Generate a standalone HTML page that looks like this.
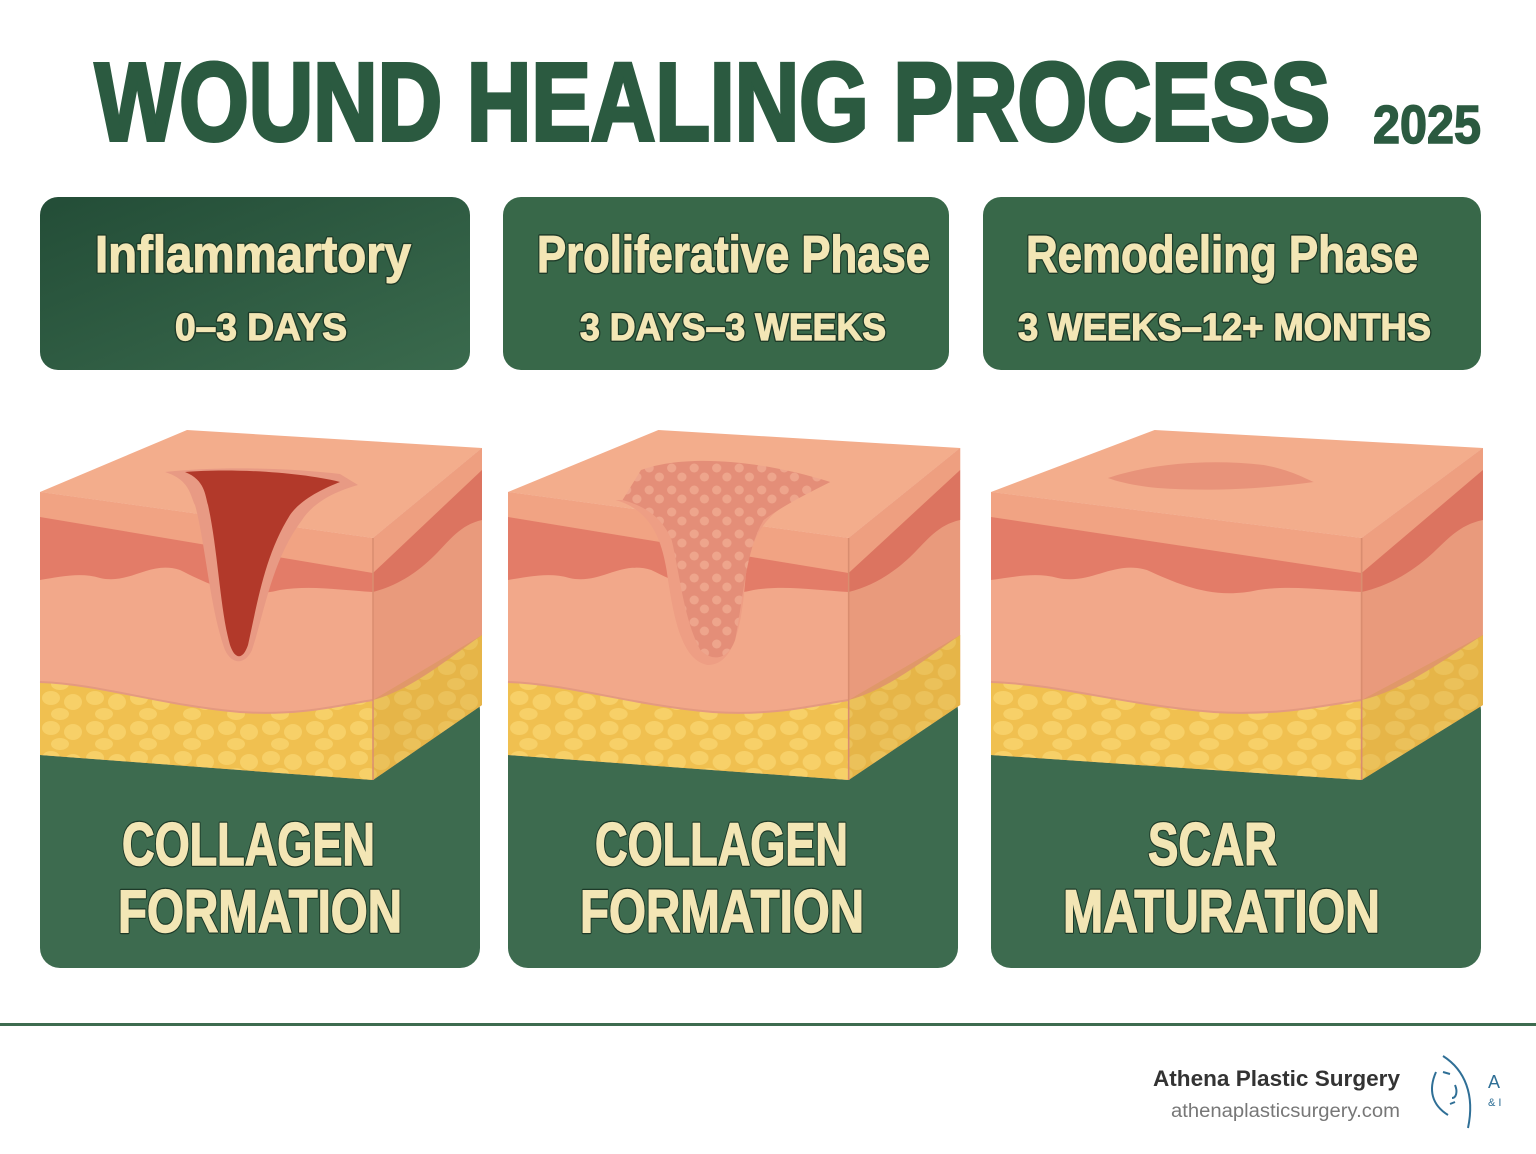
<!DOCTYPE html>
<html><head><meta charset="utf-8"><style>
html,body{margin:0;padding:0;background:#fff;}
svg{display:block}
text{font-family:"Liberation Sans",sans-serif;font-weight:bold;}
.cr{paint-order:stroke fill;}
</style></head><body>
<svg width="1536" height="1154" viewBox="0 0 1536 1154" xmlns="http://www.w3.org/2000/svg">
<defs>
<linearGradient id="hg" x1="0" y1="0" x2="1" y2="1"><stop offset="0" stop-color="#234d37"/><stop offset="1" stop-color="#3a6a4d"/></linearGradient>
<pattern id="fat" width="44" height="30" patternUnits="userSpaceOnUse">
<rect width="44" height="30" fill="#f0c050"/>
<ellipse cx="11" cy="8" rx="9" ry="7" fill="#f7d068"/>
<ellipse cx="33" cy="12" rx="9" ry="8" fill="#f7d068"/>
<ellipse cx="20" cy="24" rx="9" ry="6" fill="#f7d068"/>
</pattern>
<pattern id="gran" width="22" height="22" patternUnits="userSpaceOnUse">
<rect width="22" height="22" fill="#e48e78"/>
<circle cx="6" cy="6" r="4.5" fill="#eea58c"/>
<circle cx="16" cy="15" r="4.5" fill="#eea58c"/>
</pattern>
<g id="cube">
<polygon points="0,492 147,430 442,448 333,538" fill="#f3ad8c"/>
<polygon points="0,492 333,538 333,780 0,755" fill="#f2a88a"/>
<polygon points="0,492 333,538 333,573 0,517" fill="#f1a383"/>
<path d="M0,517 L333,573 L333,592 C300,590 270,585 240,590 C200,600 170,585 140,570 C110,560 90,585 60,578 C40,572 20,577 0,580 Z" fill="#e37c68"/>
<path d="M0,682 C60,684 120,705 200,712 C260,716 300,705 333,700 L333,780 L0,755 Z" fill="url(#fat)"/>
<path d="M0,682 C60,684 120,705 200,712 C260,716 300,705 333,700" fill="none" stroke="#e49a80" stroke-width="2"/>
<polygon points="333,538 442,448 442,705 333,780" fill="#e99a7c"/>
<polygon points="333,538 442,448 442,470 333,573" fill="#ee9f80"/>
<path d="M333,573 L442,470 L442,520 C420,525 410,540 395,555 C380,570 360,585 333,592 Z" fill="#dc7460"/>
<path d="M333,700 C370,690 400,665 442,635 L442,705 L333,780 Z" fill="url(#fat)"/>
<polygon points="333,700 442,635 442,705 333,780" fill="#c9932f" opacity="0.25"/>
<line x1="333" y1="538" x2="333" y2="780" stroke="#d98d70" stroke-width="1.5"/>
</g>
</defs>

<text class="cr" x="95" y="140" font-size="110" fill="#2b5a40" stroke="#2b5a40" stroke-width="4" textLength="1235" lengthAdjust="spacingAndGlyphs">WOUND HEALING PROCESS</text>
<text class="cr" x="1373" y="143" font-size="54" fill="#2b5a40" stroke="#2b5a40" stroke-width="1.5" textLength="108" lengthAdjust="spacingAndGlyphs">2025</text>

<rect x="40" y="197" width="430" height="173" rx="18" fill="url(#hg)"/>
<rect x="503" y="197" width="446" height="173" rx="18" fill="#386849"/>
<rect x="983" y="197" width="498" height="173" rx="18" fill="#386849"/>
<g class="cr" fill="#f3e6b5" stroke="#1d3a28" stroke-width="4" stroke-linejoin="round">
<text x="95" y="272" font-size="52" textLength="316" lengthAdjust="spacingAndGlyphs">Inflammartory</text>
<text x="175" y="340" font-size="38" textLength="172" lengthAdjust="spacingAndGlyphs">0–3 DAYS</text>
<text x="537" y="272" font-size="52" textLength="393" lengthAdjust="spacingAndGlyphs">Proliferative Phase</text>
<text x="580" y="340" font-size="38" textLength="306" lengthAdjust="spacingAndGlyphs">3 DAYS–3 WEEKS</text>
<text x="1026" y="272" font-size="52" textLength="392" lengthAdjust="spacingAndGlyphs">Remodeling Phase</text>
<text x="1018" y="340" font-size="38" textLength="413" lengthAdjust="spacingAndGlyphs">3 WEEKS–12+ MONTHS</text>
</g>
<g fill="#f3e6b5" stroke="#f3e6b5" stroke-width="1.2">
<text x="95" y="272" font-size="52" textLength="316" lengthAdjust="spacingAndGlyphs">Inflammartory</text>
<text x="175" y="340" font-size="38" textLength="172" lengthAdjust="spacingAndGlyphs">0–3 DAYS</text>
<text x="537" y="272" font-size="52" textLength="393" lengthAdjust="spacingAndGlyphs">Proliferative Phase</text>
<text x="580" y="340" font-size="38" textLength="306" lengthAdjust="spacingAndGlyphs">3 DAYS–3 WEEKS</text>
<text x="1026" y="272" font-size="52" textLength="392" lengthAdjust="spacingAndGlyphs">Remodeling Phase</text>
<text x="1018" y="340" font-size="38" textLength="413" lengthAdjust="spacingAndGlyphs">3 WEEKS–12+ MONTHS</text>
</g>

<rect x="40" y="690" width="440" height="278" rx="20" fill="#3d6b4f"/>
<rect x="508" y="690" width="450" height="278" rx="20" fill="#3d6b4f"/>
<rect x="991" y="690" width="490" height="278" rx="20" fill="#3d6b4f"/>
<rect x="30" y="400" width="470" height="300" fill="#fff"/>
<rect x="500" y="400" width="470" height="300" fill="#fff"/>
<rect x="985" y="400" width="510" height="300" fill="#fff"/>
<polygon points="40,690 40,755 373,780 480,705 480,690" fill="#3d6b4f"/>
<polygon points="508,690 508,755 848,780 958,705 958,690" fill="#3d6b4f"/>
<polygon points="991,690 991,755 1362,780 1481,705 1481,690" fill="#3d6b4f"/>

<g transform="translate(40,0)">
<use href="#cube"/>
<path d="M125,472 C150,480 150,495 155,505 C165,540 170,610 185,650 C192,665 205,665 212,650 C225,610 232,560 262,520 C275,500 300,490 318,485 L300,474 C250,468 180,466 125,472 Z" fill="#e89a84"/>
<path d="M145,472 C165,480 165,495 168,505 C178,550 180,610 190,645 C195,660 203,660 208,645 C218,600 225,555 250,515 C262,498 285,488 300,482 C260,472 190,468 145,472 Z" fill="#b2392a"/>
</g>
<g transform="translate(508,0) scale(1.023,1)">
<use href="#cube"/>
<path d="M105,500 C140,510 150,540 155,570 C162,620 170,660 195,665 C220,665 228,630 232,580 C236,540 250,515 280,500 Z" fill="#ee9e84"/>
<path d="M112,500 L130,470 C170,455 240,458 315,482 C290,495 270,505 250,520 C232,550 230,600 222,640 C215,660 200,662 188,650 C172,620 168,575 160,540 C150,515 130,505 112,500 Z" fill="url(#gran)"/>
</g>
<g transform="translate(991,0) scale(1.113,1)">
<use href="#cube"/>
<path d="M105,478 C140,465 190,458 245,465 C270,470 285,480 290,482 C250,488 200,492 150,488 C130,486 115,482 105,478 Z" fill="#e8937a"/>
</g>

<g class="cr" fill="#f3e6b5" stroke="#1d3a28" stroke-width="4" stroke-linejoin="round">
<text x="122" y="865" font-size="60" textLength="253" lengthAdjust="spacingAndGlyphs">COLLAGEN</text>
<text x="118" y="932" font-size="60" textLength="284" lengthAdjust="spacingAndGlyphs">FORMATION</text>
<text x="595" y="865" font-size="60" textLength="253" lengthAdjust="spacingAndGlyphs">COLLAGEN</text>
<text x="580" y="932" font-size="60" textLength="284" lengthAdjust="spacingAndGlyphs">FORMATION</text>
<text x="1148" y="865" font-size="60" textLength="129" lengthAdjust="spacingAndGlyphs">SCAR</text>
<text x="1063" y="932" font-size="60" textLength="317" lengthAdjust="spacingAndGlyphs">MATURATION</text>
</g>
<g fill="#f3e6b5" stroke="#f3e6b5" stroke-width="1.5">
<text x="122" y="865" font-size="60" textLength="253" lengthAdjust="spacingAndGlyphs">COLLAGEN</text>
<text x="118" y="932" font-size="60" textLength="284" lengthAdjust="spacingAndGlyphs">FORMATION</text>
<text x="595" y="865" font-size="60" textLength="253" lengthAdjust="spacingAndGlyphs">COLLAGEN</text>
<text x="580" y="932" font-size="60" textLength="284" lengthAdjust="spacingAndGlyphs">FORMATION</text>
<text x="1148" y="865" font-size="60" textLength="129" lengthAdjust="spacingAndGlyphs">SCAR</text>
<text x="1063" y="932" font-size="60" textLength="317" lengthAdjust="spacingAndGlyphs">MATURATION</text>
</g>

<rect x="0" y="1023" width="1536" height="3" fill="#3d6b4f"/>
<text x="1400" y="1086" font-size="22" fill="#333" text-anchor="end" textLength="247" lengthAdjust="spacingAndGlyphs">Athena Plastic Surgery</text>
<text x="1400" y="1117" font-size="19" fill="#777" style="font-weight:normal" text-anchor="end" textLength="229" lengthAdjust="spacingAndGlyphs">athenaplasticsurgery.com</text>
<g fill="none" stroke="#2f6f96" stroke-width="2">
<path d="M1443,1056 C1465,1070 1475,1095 1468,1128"/>
<path d="M1436,1072 C1428,1090 1432,1105 1448,1115"/>
<path d="M1443,1072 L1450,1074 M1455,1085 C1458,1092 1456,1098 1452,1098 M1450,1104 L1455,1102"/>
</g>
<text x="1488" y="1088" font-size="18" fill="#2f6f96" style="font-weight:normal">A</text>
<text x="1488" y="1106" font-size="11" fill="#2f6f96" style="font-weight:normal">&amp; I</text>
</svg>
</body></html>
